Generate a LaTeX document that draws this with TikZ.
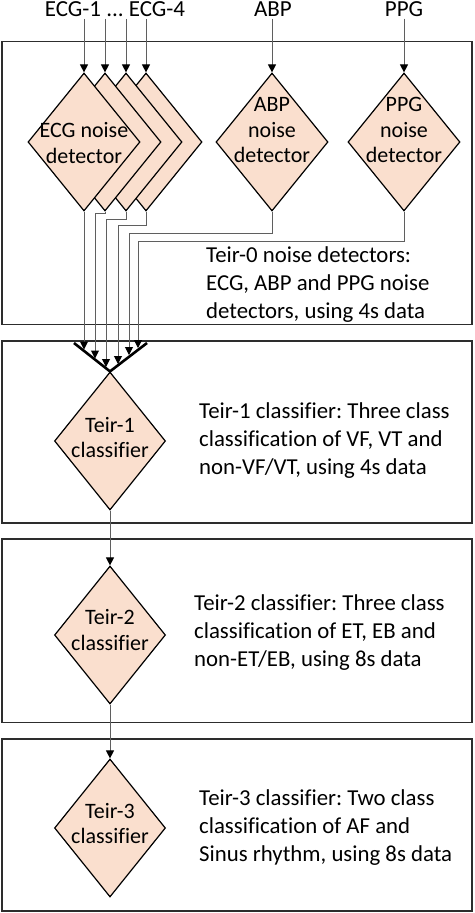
\documentclass[tikz,border=0pt]{standalone}
\usepackage{fontspec}
\setmainfont{Carlito}[Ligatures=CommonOff]
\usetikzlibrary{shapes.geometric,arrows.meta}
\definecolor{peach}{RGB}{250,223,206}
\definecolor{boxc}{RGB}{45,45,45}
\definecolor{linec}{RGB}{95,95,95}
\newcommand\dtxt[2]{\raisebox{#1}[0pt][0pt]{\begin{tabular}{@{}c@{}}#2\end{tabular}}}
\frenchspacing
\begin{document}
\begin{tikzpicture}[x=1pt,y=-1pt,
  dia/.style={diamond, draw=black, line width=1.2pt, fill=peach, minimum width=112pt, minimum height=138pt, inner sep=0pt, font=\fontsize{22}{25.5}\selectfont},
  box/.style={draw=boxc, line width=1.8pt, inner sep=0pt},
  desc/.style={anchor=west, align=left, inner sep=0pt, font=\fontsize{22.8}{28}\selectfont},
  lab/.style={inner xsep=0pt, inner ysep=2pt, font=\fontsize{23}{26}\selectfont},
  conn/.style={draw=linec, line width=1pt},
  arr/.style={conn, -{Triangle[length=8pt,width=8pt,color=black]}},
  vline/.style={draw=black, line width=2.6pt}]
\useasboundingbox (0,0) rectangle (474,913);
% boxes
\node[box, minimum width=470pt, minimum height=283pt] (b0) at (237,183) {};
\node[box, minimum width=470pt, minimum height=182pt] (b1) at (237,432) {};
\node[box, minimum width=470pt, minimum height=183.5pt] (b2) at (237,630.75) {};
\node[box, minimum width=470pt, minimum height=172pt] (b3) at (237,825) {};
% input labels
\node[lab] (ecglab) at (115,9) {ECG-1 ... ECG-4};
\node[lab] (abplab) at (273,9) {ABP};
\node[lab] (ppglab) at (404,9) {PPG};
% noise detectors
\node[dia] (e4) at (146,142) {};
\node[dia] (e3) at (126,142) {};
\node[dia] (e2) at (105,142) {};
\node[dia] (e1) at (84,142) {\dtxt{-8.75pt}{ECG noise\\detector}};
\node[dia] (abp) at (272,142) {\dtxt{4.75pt}{ABP\\noise\\detector}};
\node[dia] (ppg) at (404,142) {\dtxt{4.75pt}{PPG\\noise\\detector}};
% classifiers
\node[dia, minimum width=111pt] (t1) at (110,441) {\dtxt{-4.25pt}{Teir-1\\classifier}};
\node[dia, minimum width=111pt] (t2) at (110,635) {\dtxt{-2.75pt}{Teir-2\\classifier}};
\node[dia, minimum width=111pt] (t3) at (110,828) {\dtxt{-3.25pt}{Teir-3\\classifier}};
% descriptions
\node[desc] (d0) at (206,285) {Teir-0 noise detectors:\\ECG, ABP and PPG noise\\detectors, using 4s data};
\node[desc] (d1) at (199,441) {Teir-1 classifier: Three class\\classification of VF, VT and\\non-VF/VT, using 4s data};
\node[desc] (d2) at (194,633) {Teir-2 classifier: Three class\\classification of ET, EB and\\non-ET/EB, using 8s data};
\node[desc] (d3) at (199,828) {Teir-3 classifier: Two class\\classification of AF and\\Sinus rhythm, using 8s data};
% input arrows
\draw[arr] (ecglab.south -| e1.north) -- (e1.north);
\draw[arr] (ecglab.south -| e2.north) -- (e2.north);
\draw[arr] (ecglab.south -| e3.north) -- (e3.north);
\draw[arr] (ecglab.south -| e4.north) -- (e4.north);
\draw[arr] (abplab.south -| abp.north) -- (abp.north);
\draw[arr] (ppglab.south) -- (ppg.north);
% merge V
\coordinate (vL) at (74,343);
\coordinate (vR) at (147,343);
\coordinate (a1) at (84,349.5);
\coordinate (a2) at (95,358.5);
\coordinate (a3) at (106,367);
\coordinate (a4) at (118,364);
\coordinate (a5) at (129,355);
\coordinate (a6) at (138,348);
\draw[arr] (e1.south) -- (a1);
\draw[arr] (e2.south) -- ++(0,2) -| (a2);
\draw[arr] (e3.south) -- ++(0,8) -| (a3);
\draw[arr] (e4.south) -- ++(0,14) -| (a4);
\draw[arr] (abp.south) -- ++(0,21.5) -| (a5);
\draw[arr] (ppg.south) -- ++(0,30) -| (a6);
\draw[vline] (vL) -- (t1.north) -- (vR);
% tier arrows
\draw[arr] (t1.south) -- (t2.north);
\draw[arr] (t2.south) -- (t3.north);
\end{tikzpicture}
\end{document}
